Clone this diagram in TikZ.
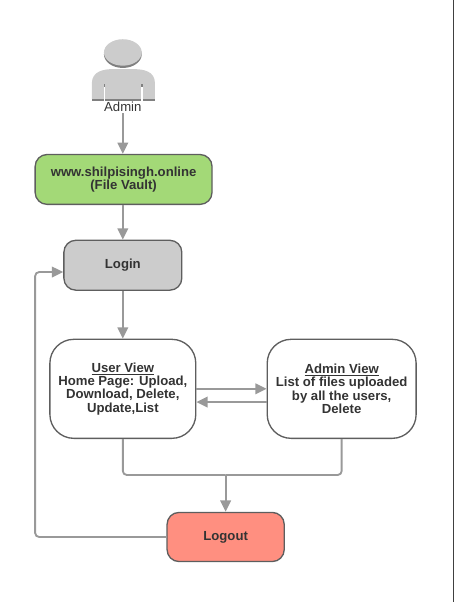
\documentclass[tikz,border=0pt]{standalone}
\usepackage{fontspec}
\setmainfont{Liberation Sans}
\usetikzlibrary{arrows.meta}
\definecolor{boxline}{HTML}{5E5E5E}
\definecolor{linkgray}{HTML}{999999}
\definecolor{textgray}{HTML}{333333}
\definecolor{vaultgreen}{HTML}{A3D977}
\definecolor{logingray}{HTML}{CCCCCC}
\definecolor{logoutred}{HTML}{FF8F80}
\definecolor{personshade}{HTML}{808080}
\tikzset{
    flowbox/.style={draw=boxline, line width=1pt, rounded corners=9pt, align=center,
        font=\fontsize{9.9}{10.1}\selectfont\bfseries, text=textgray, inner sep=0pt},
    viewbox/.style={flowbox, fill=white, rounded corners=18pt, minimum height=2.62cm},
    link/.style={draw=linkgray, line width=1.4pt, rounded corners=3pt,
        -{Triangle[length=8.5pt, width=8pt]}},
    mergeline/.style={draw=linkgray, line width=1.4pt, rounded corners=3pt}
}
\begin{document}
\begin{tikzpicture}
    \useasboundingbox (0,0) rectangle (12.012,15.928);
    % Page edge
    \draw[line width=0.8pt, black!75] (11.995,0) -- (11.995,15.928);

    % Admin figure
    \fill[personshade] (3.25,14.49) ellipse (0.5 and 0.36);
    \fill[logingray] (3.25,14.54) ellipse (0.5 and 0.35);
    \fill[personshade] (2.43,13.25) rectangle (4.1,13.31);
    \fill[logingray] (2.43,13.31) -- (2.43,13.72) .. controls (2.43,14.05) and (2.75,14.1) .. (3.0,14.1)
        -- (3.5,14.1) .. controls (3.8,14.1) and (4.1,14.05) .. (4.1,13.72) -- (4.1,13.31) -- cycle;
    \fill[white] (2.74,13.25) rectangle (2.79,13.62);
    \fill[white] (3.73,13.25) rectangle (3.78,13.62);
    \fill[personshade] (2.74,13.62) rectangle (2.79,13.7);
    \fill[personshade] (3.73,13.62) rectangle (3.78,13.7);
    \node[font=\fontsize{9.9}{10.1}\selectfont, text=textgray, inner sep=1pt] (admin) at (3.25,13.1) {Admin};

    % Boxes
    \node[flowbox, fill=vaultgreen, minimum width=4.68cm, minimum height=1.32cm] (vault) at (3.27,11.18)
        {www.shilpisingh.online\\(File Vault)};
    \node[flowbox, fill=logingray, minimum width=3.12cm, minimum height=1.32cm] (login) at (3.25,8.91) {Login};
    \node[viewbox, minimum width=3.86cm] (userview) at (3.25,5.64)
        {\underline{User View}\\Home Page: Upload,\\Download, Delete,\\Update,List};
    \node[viewbox, minimum width=3.94cm] (adminview) at (9.04,5.64)
        {\underline{Admin View}\\List of files uploaded\\by all the users,\\Delete};
    \node[flowbox, fill=logoutred, minimum width=3.1cm, minimum height=1.3cm] (logout) at (5.97,1.72) {Logout};

    % Connections
    \draw[link] (admin) -- (vault.north -| admin);
    \draw[link] (vault.south -| login) -- (login.north);
    \draw[link] (login) -- (userview);
    \draw[link] (userview.east) -- (adminview.west);
    \draw[link] ([yshift=-0.35cm]adminview.west) -- ([yshift=-0.35cm]userview.east);

    % Merge into logout
    \coordinate (merge) at (5.97,3.36);
    \draw[mergeline] (userview.south) |- (merge);
    \draw[mergeline] (adminview.south) |- (merge);
    \draw[link] (merge) -- (logout.north);

    % Back to login
    \coordinate (backleft) at (0.93,1.72);
    \coordinate (backtop) at (0.93,8.73);
    \draw[link] (logout.west) -- (backleft) -- (backtop) -- ([yshift=-0.18cm]login.west);
\end{tikzpicture}
\end{document}
